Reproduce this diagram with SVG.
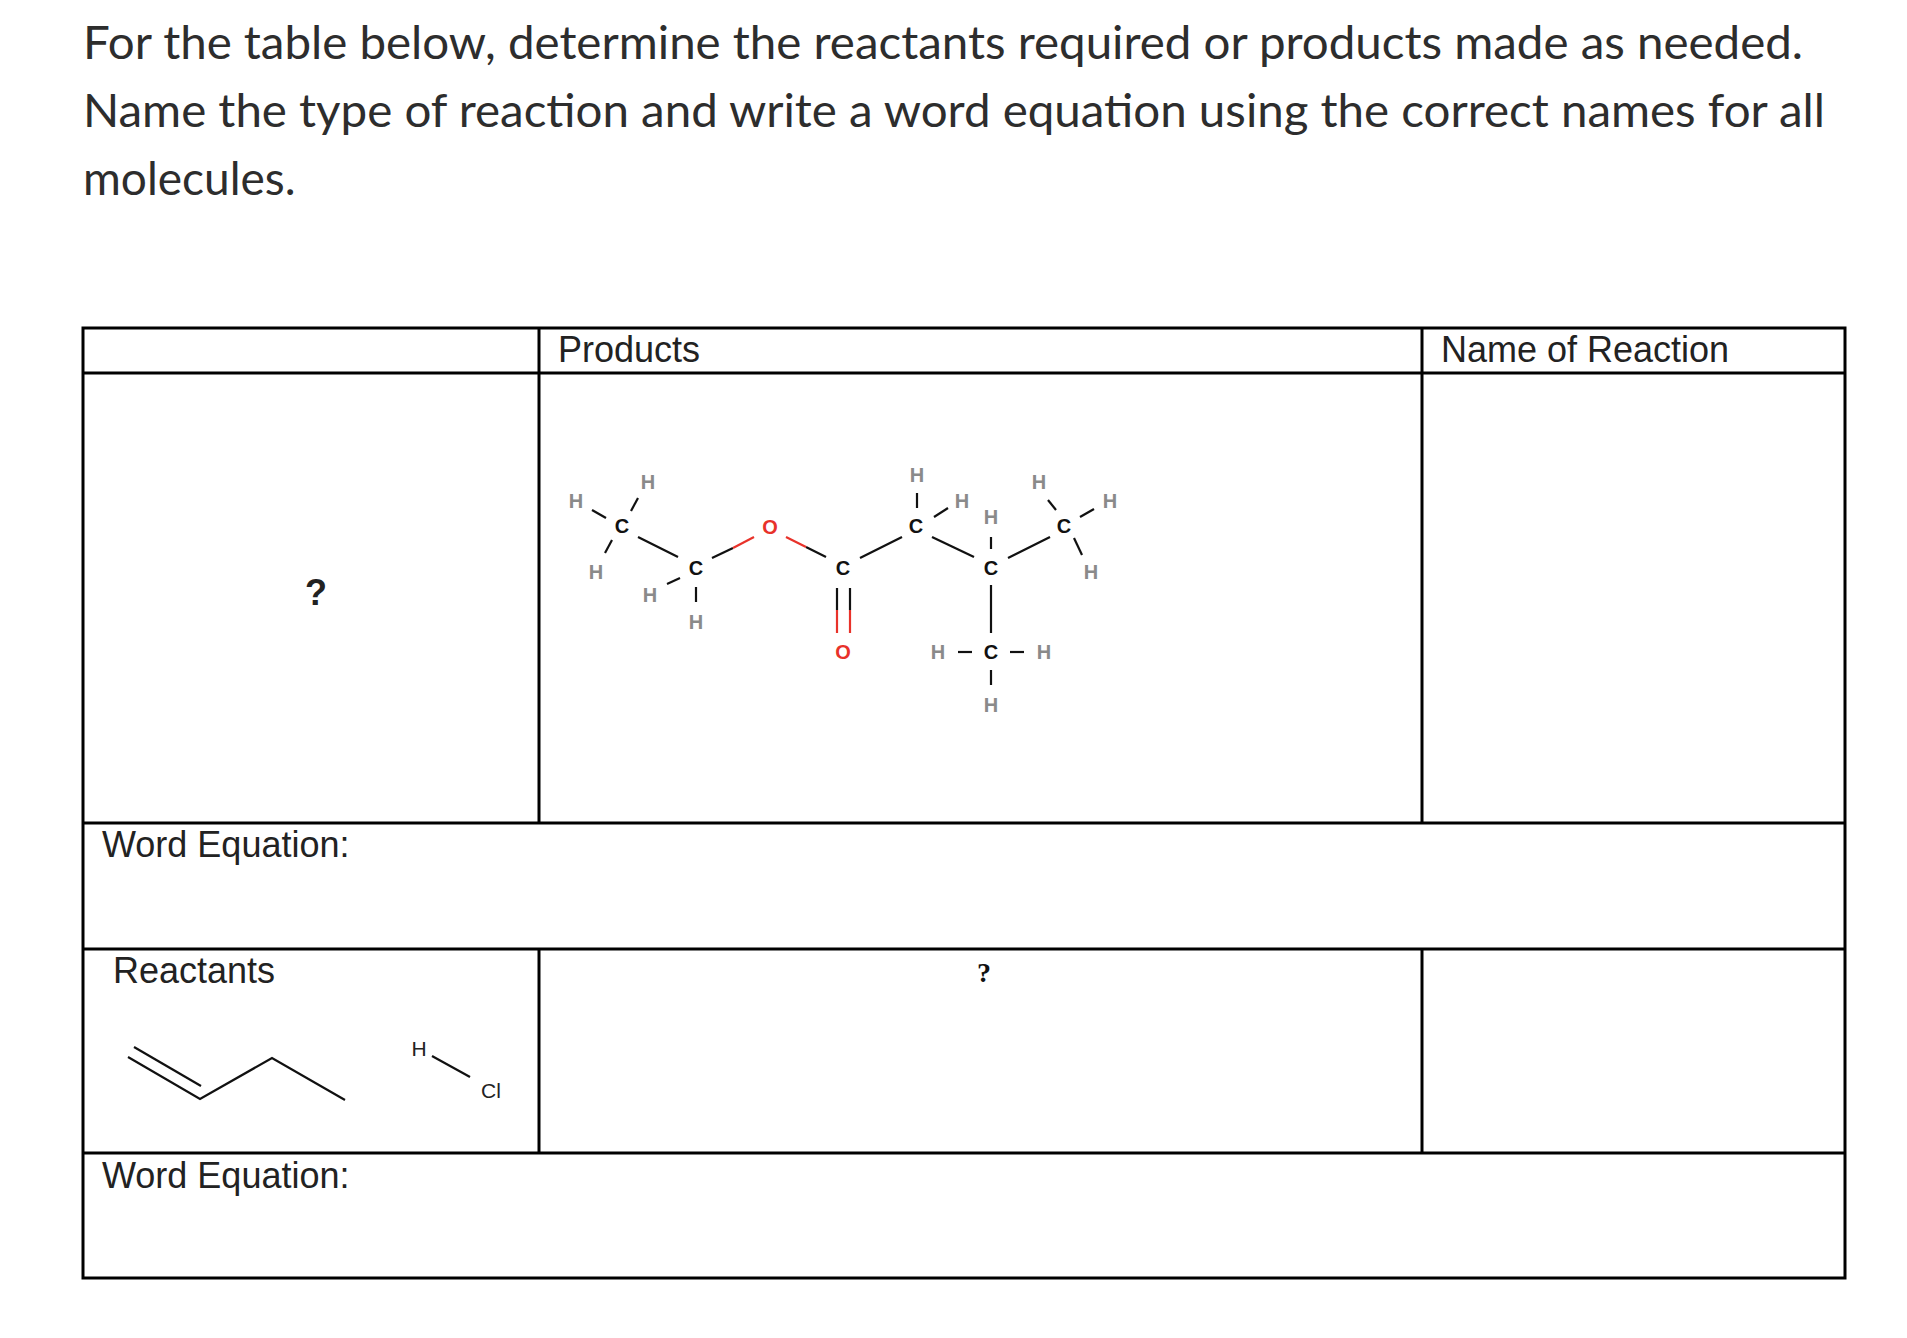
<svg xmlns="http://www.w3.org/2000/svg" width="1907" height="1338" viewBox="0 0 1907 1338">
<style>
.q{font-family:Lato,"Open Sans",sans-serif;font-size:46px;fill:#2d2d2d}
.t{font-family:"Liberation Sans",Arial,sans-serif;font-size:36px;fill:#222}
.g{stroke:#000;stroke-width:3;fill:none}
.b{stroke:#111;stroke-width:2.2;fill:none}
.r{stroke:#e8322a;stroke-width:2.2;fill:none}
.C{font-family:"Liberation Sans",Arial,sans-serif;font-size:20px;font-weight:bold;fill:#111;text-anchor:middle;dominant-baseline:central}
.H{font-family:"Liberation Sans",Arial,sans-serif;font-size:20px;font-weight:bold;fill:#8a8a8a;text-anchor:middle;dominant-baseline:central}
.O{font-family:"Liberation Sans",Arial,sans-serif;font-size:20px;font-weight:bold;fill:#e8322a;text-anchor:middle;dominant-baseline:central}
</style>
<rect width="1907" height="1338" fill="#fff"/>
<g id="question">
<text class="q" x="83" y="59" textLength="1720" lengthAdjust="spacingAndGlyphs">For the table below, determine the reactants required or products made as needed.</text>
<text class="q" x="83" y="127" textLength="1742" lengthAdjust="spacingAndGlyphs">Name the type of reaction and write a word equation using the correct names for all</text>
<text class="q" x="83" y="195">molecules.</text>
</g>
<g id="table" class="g">
<rect x="83" y="328" width="1762" height="950"/>
<line x1="83" y1="373" x2="1845" y2="373"/>
<line x1="83" y1="823" x2="1845" y2="823"/>
<line x1="83" y1="949" x2="1845" y2="949"/>
<line x1="83" y1="1153" x2="1845" y2="1153"/>
<line x1="539" y1="328" x2="539" y2="823"/>
<line x1="1422" y1="328" x2="1422" y2="823"/>
<line x1="539" y1="949" x2="539" y2="1153"/>
<line x1="1422" y1="949" x2="1422" y2="1153"/>
</g>
<g id="labels">
<text class="t" x="558" y="362">Products</text>
<text class="t" x="1441" y="362">Name of Reaction</text>
<text class="t" x="316" y="605" font-weight="bold" text-anchor="middle">?</text>
<text class="t" x="102" y="857">Word Equation:</text>
<text class="t" x="113" y="983">Reactants</text>
<text x="984" y="982" font-family="Liberation Serif,serif" font-weight="bold" font-size="28" text-anchor="middle" fill="#111">?</text>
<text class="t" x="102" y="1188">Word Equation:</text>
</g>
<g id="product-molecule">
<g class="b">
<line x1="638" y1="537" x2="678" y2="557"/>
<line x1="712" y1="558" x2="733" y2="548"/>
<line x1="860" y1="558" x2="902" y2="537"/>
<line x1="932" y1="537" x2="974" y2="557"/>
<line x1="1008" y1="558" x2="1050" y2="537"/>
<line x1="837" y1="588" x2="837" y2="610"/>
<line x1="850" y1="588" x2="850" y2="610"/>
<line x1="991" y1="585" x2="991" y2="633"/>
<line x1="806" y1="547" x2="826" y2="557"/>
</g>
<g class="r">
<line x1="733" y1="548" x2="754" y2="537"/>
<line x1="786" y1="537" x2="806" y2="547"/>
<line x1="837" y1="610" x2="837" y2="633"/>
<line x1="850" y1="610" x2="850" y2="633"/>
</g>
<g class="b" stroke-width="1.8">
<line x1="592" y1="510" x2="606" y2="518"/>
<line x1="638" y1="498" x2="631" y2="511"/>
<line x1="612" y1="540" x2="605" y2="553"/>
<line x1="667" y1="584" x2="680" y2="578"/>
<line x1="696" y1="587" x2="696" y2="602"/>
<line x1="917" y1="493" x2="917" y2="508"/>
<line x1="934" y1="517" x2="948" y2="508"/>
<line x1="991" y1="537" x2="991" y2="549"/>
<line x1="1048" y1="500" x2="1056" y2="510"/>
<line x1="1080" y1="517" x2="1094" y2="509"/>
<line x1="1074" y1="538" x2="1082" y2="555"/>
<line x1="958" y1="652" x2="972" y2="652"/>
<line x1="1010" y1="652" x2="1024" y2="652"/>
<line x1="991" y1="670" x2="991" y2="685"/>
</g>
<text class="C" x="622" y="526">C</text>
<text class="C" x="696" y="568">C</text>
<text class="O" x="770" y="527">O</text>
<text class="C" x="843" y="568">C</text>
<text class="O" x="843" y="652">O</text>
<text class="C" x="916" y="526">C</text>
<text class="C" x="991" y="568">C</text>
<text class="C" x="1064" y="526">C</text>
<text class="C" x="991" y="652">C</text>
<text class="H" x="576" y="501">H</text>
<text class="H" x="648" y="482">H</text>
<text class="H" x="596" y="572">H</text>
<text class="H" x="650" y="595">H</text>
<text class="H" x="696" y="622">H</text>
<text class="H" x="917" y="475">H</text>
<text class="H" x="962" y="501">H</text>
<text class="H" x="991" y="517">H</text>
<text class="H" x="1039" y="482">H</text>
<text class="H" x="1110" y="501">H</text>
<text class="H" x="1091" y="572">H</text>
<text class="H" x="938" y="652">H</text>
<text class="H" x="1044" y="652">H</text>
<text class="H" x="991" y="705">H</text>
</g>
<g id="reactant-butene" class="b">
<polyline points="128,1057 200,1099 272,1058 345,1100"/>
<line x1="134" y1="1047" x2="201" y2="1086"/>
</g>
<g id="reactant-hcl">
<line class="b" x1="432" y1="1056" x2="470" y2="1077"/>
<text x="419" y="1048" font-family="Liberation Sans,Arial,sans-serif" font-size="21" fill="#222" text-anchor="middle" dominant-baseline="central">H</text>
<text x="491" y="1090" font-family="Liberation Sans,Arial,sans-serif" font-size="21" fill="#222" text-anchor="middle" dominant-baseline="central">Cl</text>
</g>
</svg>
